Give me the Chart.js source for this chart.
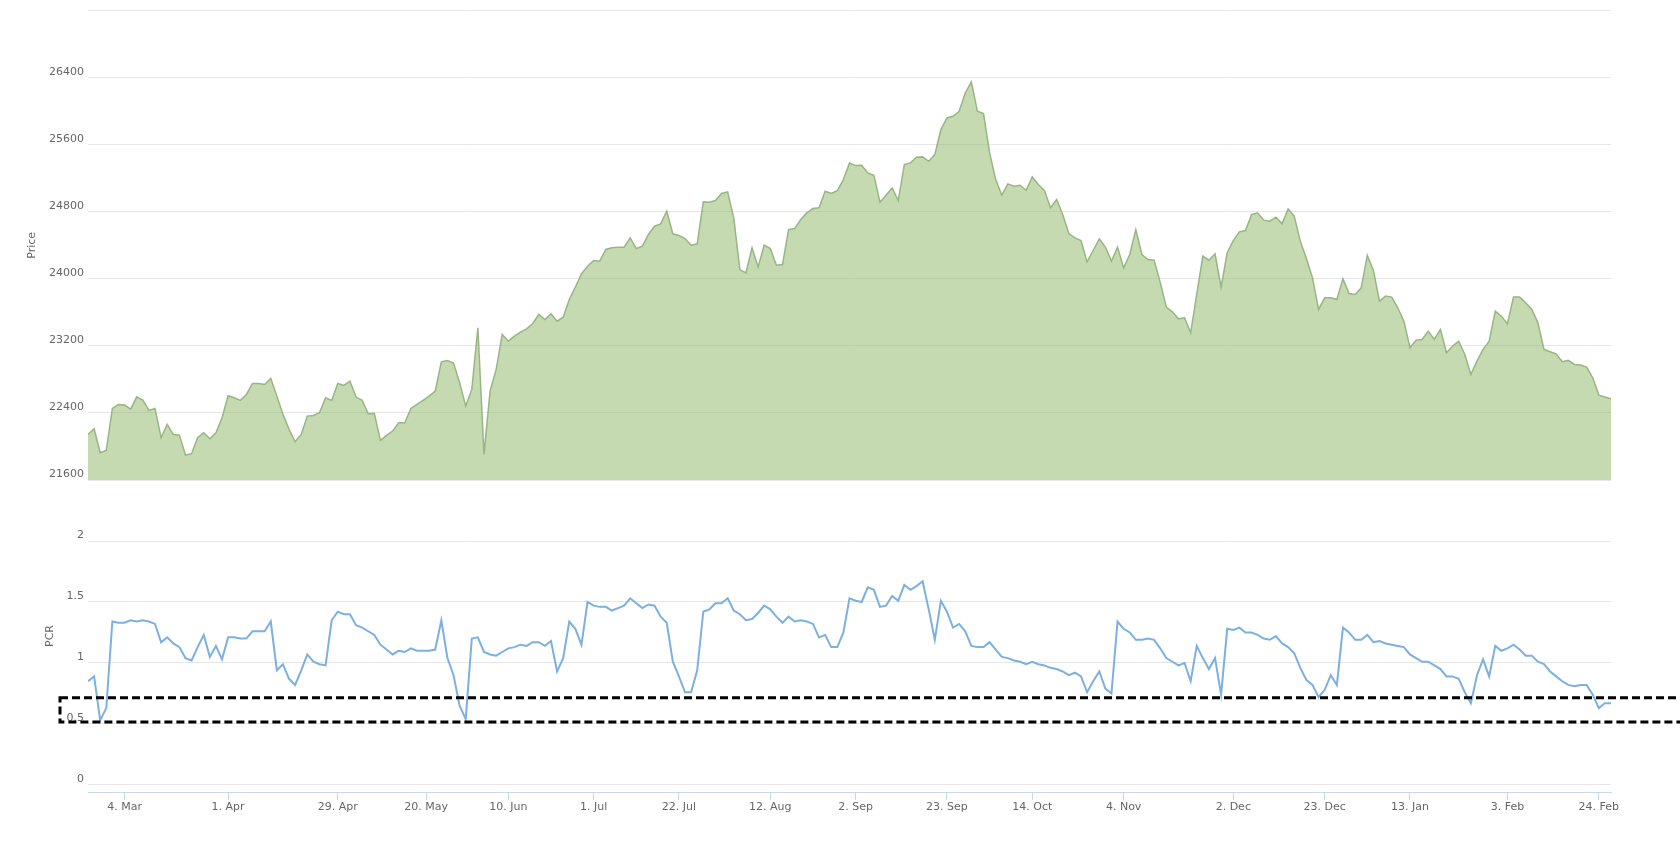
<!DOCTYPE html>
<html>
<head>
<meta charset="utf-8">
<script src="https://cdn.jsdelivr.net/npm/chart.js@4.4.1/dist/chart.umd.min.js"></script>
<style>
  html, body { margin: 0; padding: 0; background: #fff; }
  #wrap { width: 1680px; height: 843px; }
</style>
</head>
<body>
<div id="wrap"><canvas id="chart" width="1680" height="843"></canvas></div>
<script>
// one value per trading day
const price = [
  22144, 22212, 21926, 21954, 22454, 22502, 22494, 22446, 22593, 22554,
  22431, 22454, 22105, 22264, 22144, 22136, 21898, 21914, 22105, 22164,
  22093, 22164, 22343, 22605, 22582, 22550, 22621, 22752, 22752, 22740,
  22812, 22601, 22383, 22204, 22057, 22144, 22363, 22371, 22403, 22582,
  22550, 22752, 22729, 22780, 22590, 22550, 22391, 22395, 22073, 22133,
  22184, 22284, 22284, 22454, 22502, 22550, 22601, 22661, 23011, 23027,
  22995, 22760, 22482, 22681, 23416, 21906, 22661, 22920, 23337, 23257,
  23317, 23364, 23404, 23468, 23575, 23515, 23583, 23495, 23543, 23754,
  23901, 24060, 24151, 24219, 24211, 24350, 24370, 24378, 24378, 24489,
  24362, 24390, 24529, 24628, 24656, 24807, 24537, 24517, 24481, 24402,
  24418, 24918, 24914, 24934, 25018, 25037, 24727, 24111, 24072, 24370,
  24143, 24402, 24362, 24163, 24171, 24588, 24600, 24707, 24787, 24839,
  24847, 25045, 25018, 25053, 25184, 25383, 25351, 25355, 25264, 25236,
  24914, 24998, 25085, 24934, 25363, 25383, 25451, 25455, 25403, 25482,
  25780, 25919, 25939, 25999, 26217, 26349, 25999, 25971, 25502, 25184,
  24998, 25133, 25105, 25117, 25057, 25216, 25125, 25053, 24847, 24946,
  24767, 24541, 24489, 24457, 24203, 24338, 24477, 24378, 24211, 24378,
  24131, 24291, 24588, 24291, 24231, 24223, 23961, 23663, 23607, 23523,
  23535, 23357, 23814, 24271, 24223, 24299, 23901, 24311, 24457, 24561,
  24577, 24767, 24787, 24700, 24688, 24736, 24656, 24835, 24748, 24450,
  24243, 24012, 23635, 23774, 23774, 23754, 24000, 23825, 23814, 23893,
  24279, 24100, 23734, 23794, 23782, 23655, 23495, 23178, 23269, 23277,
  23376, 23277, 23396, 23118, 23198, 23257, 23098, 22860, 23019, 23158,
  23257, 23615, 23555, 23463, 23782, 23782, 23714, 23635, 23475, 23158,
  23130, 23106, 23011, 23027, 22979, 22971, 22947, 22820, 22613, 22590,
  22570
];

const pcr = [
  0.85, 0.89, 0.53, 0.63, 1.34, 1.33, 1.33, 1.35, 1.34, 1.35,
  1.34, 1.32, 1.17, 1.21, 1.16, 1.13, 1.04, 1.02, 1.13, 1.23,
  1.05, 1.14, 1.03, 1.21, 1.21, 1.20, 1.20, 1.26, 1.26, 1.26,
  1.34, 0.94, 0.99, 0.87, 0.82, 0.94, 1.07, 1.01, 0.99, 0.98,
  1.35, 1.42, 1.40, 1.40, 1.31, 1.29, 1.26, 1.23, 1.15, 1.11,
  1.07, 1.10, 1.09, 1.12, 1.10, 1.10, 1.10, 1.11, 1.35, 1.04,
  0.90, 0.65, 0.54, 1.20, 1.21, 1.09, 1.07, 1.06, 1.09, 1.12,
  1.13, 1.15, 1.14, 1.17, 1.17, 1.14, 1.18, 0.93, 1.04, 1.34,
  1.28, 1.15, 1.50, 1.47, 1.46, 1.46, 1.43, 1.45, 1.47, 1.53,
  1.49, 1.45, 1.48, 1.47, 1.38, 1.33, 1.01, 0.89, 0.76, 0.76,
  0.94, 1.42, 1.44, 1.49, 1.49, 1.53, 1.43, 1.40, 1.35, 1.36,
  1.41, 1.47, 1.44, 1.38, 1.33, 1.38, 1.34, 1.35, 1.34, 1.32,
  1.21, 1.23, 1.13, 1.13, 1.25, 1.53, 1.51, 1.50, 1.62, 1.60,
  1.46, 1.47, 1.55, 1.51, 1.64, 1.60, 1.63, 1.67, 1.44, 1.19,
  1.51, 1.42, 1.29, 1.32, 1.26, 1.14, 1.13, 1.13, 1.17, 1.11,
  1.05, 1.04, 1.02, 1.01, 0.99, 1.01, 0.99, 0.98, 0.96, 0.95,
  0.93, 0.90, 0.92, 0.89, 0.76, 0.85, 0.93, 0.79, 0.75, 1.34,
  1.28, 1.25, 1.19, 1.19, 1.20, 1.19, 1.12, 1.04, 1.01, 0.98,
  1.00, 0.85, 1.14, 1.04, 0.95, 1.04, 0.74, 1.28, 1.27, 1.29,
  1.25, 1.25, 1.23, 1.20, 1.19, 1.22, 1.16, 1.13, 1.08, 0.96,
  0.86, 0.82, 0.72, 0.78, 0.90, 0.82, 1.29, 1.25, 1.19, 1.19,
  1.23, 1.17, 1.18, 1.16, 1.15, 1.14, 1.13, 1.07, 1.04, 1.01,
  1.01, 0.98, 0.95, 0.89, 0.89, 0.87, 0.76, 0.67, 0.90, 1.03,
  0.89, 1.14, 1.10, 1.12, 1.15, 1.11, 1.06, 1.06, 1.01, 0.99,
  0.93, 0.89, 0.85, 0.82, 0.81, 0.82, 0.82, 0.74, 0.63, 0.67,
  0.67
];

// x axis: day index of each labelled week start
const dateTickIdx = [6, 23, 41, 55.5, 69, 83, 97, 112, 126, 141, 155, 170, 188, 203, 217, 233, 248];
const dateTickLabels = ['4. Mar', '1. Apr', '29. Apr', '20. May', '10. Jun', '1. Jul', '22. Jul', '12. Aug',
  '2. Sep', '23. Sep', '14. Oct', '4. Nov', '2. Dec', '23. Dec', '13. Jan', '3. Feb', '24. Feb'];

const priceTicks = [21600, 22400, 23200, 24000, 24800, 25600, 26400, 27200];
const pcrTicks = [0, 0.5, 1, 1.5, 2, 2.5];
const pcrBand = [0.515, 0.715];

const fontFamily = 'DejaVu Sans';
const labelColor = '#666666';
const gridColor = '#e6e6e6';
const axisColor = '#ccd6eb';

// dashed box round the low PCR band
const bandBox = {
  id: 'bandBox',
  afterDraw(chart) {
    const y = chart.scales.pcr;
    const ctx = chart.ctx;
    const top = y.getPixelForValue(pcrBand[1]);
    const bottom = y.getPixelForValue(pcrBand[0]);
    const left = chart.chartArea.left - 28;
    ctx.save();
    ctx.strokeStyle = '#000';
    ctx.lineWidth = 3;
    ctx.setLineDash([8, 4]);
    ctx.strokeRect(left, top, chart.width - left + 20, bottom - top);
    ctx.restore();
  }
};

function yAxis(ticksList, title, titlePad, weight, min) {
  return {
    type: 'linear',
    position: 'left',
    stack: 'panes',
    stackWeight: weight,
    min: min,
    max: ticksList[ticksList.length - 1],
    afterBuildTicks: s => { s.ticks = ticksList.map(v => ({ value: v })); },
    afterFit: s => { s.width = 88; },
    border: { display: false },
    grid: { color: gridColor, drawTicks: false },
    ticks: {
      color: labelColor,
      font: { family: fontFamily, size: 11 },
      padding: 4,
      labelOffset: -6,
      callback: v => (v === ticksList[ticksList.length - 1] ? '' : v)
    },
    title: {
      display: true,
      text: title,
      color: labelColor,
      font: { family: fontFamily, size: 11 },
      padding: { top: titlePad, bottom: 0 }
    }
  };
}

new Chart(document.getElementById('chart'), {
  type: 'line',
  data: {
    labels: price.map((_, i) => i),
    datasets: [
      {
        label: 'Price',
        data: price,
        yAxisID: 'price',
        borderColor: '#98b584',
        borderWidth: 1.5,
        backgroundColor: 'rgba(139,181,99,0.5)',
        fill: 'start',
        pointRadius: 0,
        tension: 0
      },
      {
        label: 'PCR',
        data: pcr,
        yAxisID: 'pcr',
        borderColor: '#7cb0e0',
        borderWidth: 2,
        fill: false,
        pointRadius: 0,
        tension: 0
      }
    ]
  },
  options: {
    responsive: false,
    animation: false,
    layout: { padding: { top: 8, right: 69, left: 0, bottom: 0 } },
    plugins: {
      legend: { display: false },
      tooltip: { enabled: false }
    },
    scales: {
      x: {
        type: 'linear',
        min: 0,
        max: price.length - 1,
        afterBuildTicks: s => { s.ticks = dateTickIdx.map(v => ({ value: v })); },
        afterFit: s => { s.height = 51; },
        border: { color: axisColor },
        grid: { drawOnChartArea: false, color: axisColor, tickLength: 8 },
        ticks: {
          autoSkip: false,
          maxRotation: 0,
          color: labelColor,
          font: { family: fontFamily, size: 11 },
          padding: 1,
          callback: (v, i) => dateTickLabels[i]
        }
      },
      pcr: yAxis(pcrTicks, 'PCR', 44, 313, -0.058),
      price: yAxis(priceTicks, 'Price', 26, 471, priceTicks[0])
    }
  },
  plugins: [bandBox]
});
</script>
</body>
</html>
